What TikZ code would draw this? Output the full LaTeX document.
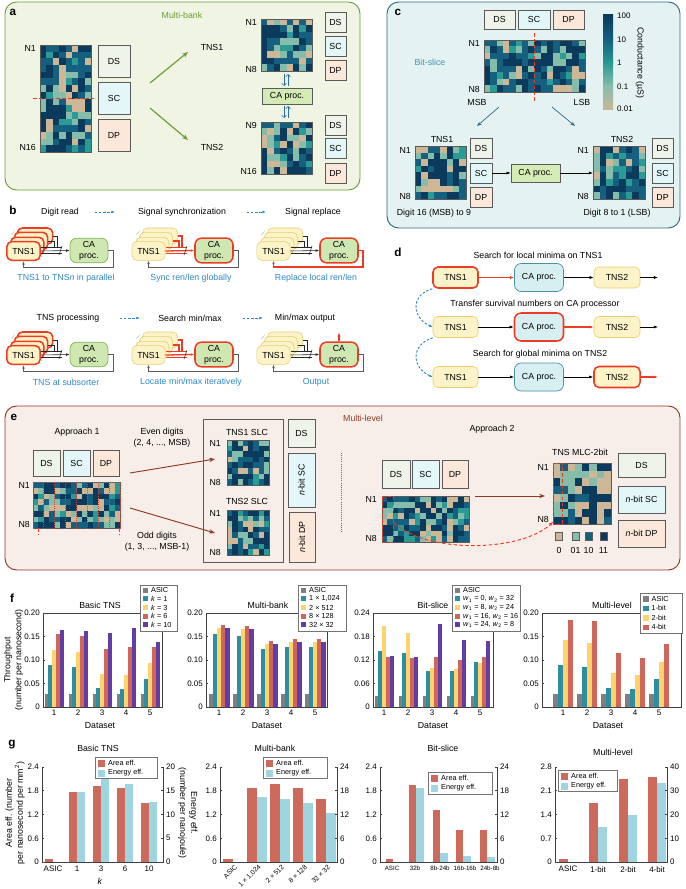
\documentclass[tikz,border=0pt]{standalone}
\usepackage{fontspec}
\setmainfont{Liberation Sans}
\usepackage{tikz}
\usetikzlibrary{arrows.meta}

\definecolor{hmA}{HTML}{0B3A5C}
\definecolor{hmB}{HTML}{14607E}
\definecolor{hmC}{HTML}{2A9A94}
\definecolor{hmD}{HTML}{86BDAA}
\definecolor{hmE}{HTML}{CDB797}
\definecolor{pagreen}{HTML}{EFF5E2}
\definecolor{pagreenline}{HTML}{6F9B36}
\definecolor{pcblue}{HTML}{E5F2F2}
\definecolor{pcline}{HTML}{2C6A82}
\definecolor{pctext}{HTML}{3E93AE}
\definecolor{pepink}{HTML}{F7EEE9}
\definecolor{peline}{HTML}{8A3A25}
\definecolor{dsfill}{HTML}{EEF4EA}
\definecolor{scfill}{HTML}{E3F7F8}
\definecolor{dpfill}{HTML}{FCE8DA}
\definecolor{boxline}{HTML}{5A5A5A}
\definecolor{cafill}{HTML}{D5EBB6}
\definecolor{tnsfill}{HTML}{FCF3C8}
\definecolor{tnsline}{HTML}{E5CF6E}
\definecolor{cagreen}{HTML}{CFE7B0}
\definecolor{cagreenline}{HTML}{82B65A}
\definecolor{cdfill}{HTML}{D7EFF1}
\definecolor{cdline}{HTML}{4A8FA2}
\definecolor{hot}{HTML}{EE3B24}
\definecolor{capblue}{HTML}{2F88C9}
\definecolor{bar1}{HTML}{7F7F7F}
\definecolor{bar2}{HTML}{2C8DA3}
\definecolor{bar3}{HTML}{FDD36C}
\definecolor{bar4}{HTML}{D0655A}
\definecolor{bar5}{HTML}{633DA6}
\definecolor{areac}{HTML}{CD6A5B}
\definecolor{energyc}{HTML}{9FD5E0}

\pgfmathdeclarerandomlist{hm}{{hmA}{hmA}{hmA}{hmA}{hmB}{hmB}{hmB}{hmC}{hmD}{hmD}{hmE}{hmE}}
\pgfmathdeclarerandomlist{mlc}{{hmE}{hmD}{hmB}{hmA}{hmA}}

% x0, y0, columns, rows, cell width, cell height, colour list
\newcommand{\heatmap}[7]{%
  \foreach \hx in {1,...,#3}{\foreach \hy in {1,...,#4}{%
    \pgfmathrandomitem{\hcol}{#7}%
    \fill[\hcol] ({#1+(\hx-1)*#5},{#2+(\hy-1)*#6}) rectangle ++({#5+0.2},{#6+0.2});}}%
  \draw[boxline,line width=0.4pt] (#1,#2) rectangle ++({#3*#5},{#4*#6});}

% one step of panel b
\newcommand{\minidiag}[7]{%
  \begin{scope}[shift={(#1,#2)}]
    \draw[densely dotted,black!60] (11,235) -- (15,230);
    \node[tnsbox,#3,minimum width=10.6mm,minimum height=4.8mm] (bn) at (35,236) {TNS\textit{n}};
    \node[tnsbox,#3,minimum width=10mm,minimum height=5.2mm] (bm) at (31,241) {};
    \node[tnsbox,#3,minimum width=10mm,minimum height=5.2mm] (bk) at (27.3,246) {};
    \node[tnsbox,#3,minimum width=10mm,minimum height=5.6mm] (b1) at (23.5,251) {TNS1};
    \node[cabbox,#5,minimum width=11.4mm,minimum height=7.4mm] (bca) at (89,250.5) {CA\\proc.};
    \draw[black!85,line width=0.5pt,#4] (bn.east) -- (57,236) -- (57,247.5);
    \draw[black!85,line width=0.5pt,#4] (bm.east) -- (54,241) -- (54,247.5);
    \draw[black!85,line width=0.5pt,#4] (41,247.5) -- (62,247.5);
    \draw[black!85,line width=0.5pt,#4] (41,253.5) -- (62,253.5);
    \draw[black!85,line width=0.5pt,#4,-{Latex[length=3pt]}] (b1.east) -- (bca.west);
    \draw[black!85,line width=0.5pt] (59,255) -- (62,246);
    \draw[boxline,line width=0.5pt,#6,-{Latex[length=3pt]}] (bca.east) -- (113,250.5) -- (113,267) -- (23.5,267) -- (b1.south);
    \node[text=capblue] at (66,278) {#7};
  \end{scope}}

% x0, x1, first centre, max, bars per group, bar width, data
\newcommand{\fchart}[7]{%
  \foreach \grp [count=\gr] in {#7}{%
    \foreach \val [count=\bb] in \grp{%
      \fill[bar\bb] ({#3+(\gr-1)*24+(\bb-1-#5/2)*#6},707) rectangle ++(#6,{-\val/#4*94});}}%
  \draw[axisline] (#1,613) rectangle (#2,707);
  \foreach \gr in {1,...,5} \node[ticklbl,anchor=north] at ({#3+(\gr-1)*24},710) {\gr};}

\newcommand{\fyticks}[2]{%
  \foreach \tl [count=\nn] in {#2}{%
    \draw[axisline] (#1,{707-(\nn-1)*23.5}) -- ++(2,0);
    \node[ticklbl,anchor=east] at ({#1-3},{707-(\nn-1)*23.5}) {\tl};}}

% left x, right x, left labels, right labels
\newcommand{\gaxes}[4]{%
  \draw[axisline] (#1,767) -- (#1,862) -- (#2,862) -- (#2,767);
  \foreach \tl [count=\nn] in {#3}{%
    \draw[axisline] (#1,{862-(\nn-1)*23.75}) -- ++(2,0);
    \node[ticklbl,anchor=east] at ({#1-3},{862-(\nn-1)*23.75}) {\tl};}
  \foreach \tl [count=\nn] in {#4}{%
    \draw[axisline] (#2,{862-(\nn-1)*23.75}) -- ++(-2,0);
    \node[ticklbl,anchor=west] at ({#2+3},{862-(\nn-1)*23.75}) {\tl};}}

% left max, right max, bar width, centre/area/energy
\newcommand{\gbars}[4]{%
  \foreach \cx/\ar/\en in {#4}{%
    \fill[areac] ({\cx-#3},862) rectangle (\cx,{862-\ar/#1*95});
    \fill[energyc] (\cx,862) rectangle ({\cx+#3},{862-\en/#2*95});}}

% x, y, width, height, spacing, square, entries
\newcommand{\legendbox}[7]{%
  \draw[legline,fill=white] (#1,#2) rectangle ++(#3,#4);
  \foreach \cl/\txt [count=\nn] in {#7}{%
    \fill[\cl] ({#1+3},{#2+1+(#5-#6)/2+(\nn-1)*#5}) rectangle ++(#6,#6);
    \node[legtext,anchor=west] at ({#1+#6+6},{#2+1+#5/2+(\nn-1)*#5}) {\txt};}}

\begin{document}
\begin{tikzpicture}[x=0.3mm,y=-0.3mm,
    every node/.style={inner sep=0pt,font=\fontsize{7.5}{9.4}\selectfont},
    lbl/.style={font=\fontsize{10}{10}\selectfont\bfseries},
    keybox/.style={draw=boxline,line width=0.5pt},
    capbox/.style={draw=boxline,fill=cafill,line width=0.5pt},
    garrow/.style={draw=pagreenline,line width=1pt,-{Stealth[length=5pt,width=4pt]}},
    carrow/.style={draw=pcline,line width=0.6pt,-{Stealth[length=4pt]}},
    earrow/.style={draw=peline,line width=0.8pt,-{Stealth[length=5pt]}},
    tinyarr/.style={draw=capblue!80!black,line width=0.5pt,-{Straight Barb[length=2pt]}},
    tnsbox/.style={draw=tnsline,fill=tnsfill,rounded corners=1.5mm,line width=0.5pt},
    cabbox/.style={draw=cagreenline,fill=cagreen,rounded corners=2mm,line width=0.6pt,align=center},
    hotbox/.style={draw=hot,line width=1.3pt},
    hotbus/.style={draw=hot,line width=1.1pt},
    cdbox/.style={draw=cdline,fill=cdfill,rounded corners=2mm,line width=0.6pt},
    bdash/.style={draw=capblue,line width=0.8pt,dash pattern=on 2pt off 1.5pt,-{Latex[length=3pt]}},
    dar/.style={line width=0.6pt,-{Latex[length=3.5pt]}},
    ticklbl/.style={font=\fontsize{6.8}{7.5}\selectfont},
    legtext/.style={font=\fontsize{6.2}{7}\selectfont},
    axisline/.style={draw=black!75,line width=0.5pt},
    legline/.style={draw=black!55,line width=0.5pt}]
\pgfmathsetseed{12}
\useasboundingbox (0,0) rectangle (685,889);
\fill[white] (0,0) rectangle (685,889);

% ---- a
\draw[pagreenline,fill=pagreen,line width=0.8pt,rounded corners=3.5mm] (5,2) rectangle (360,190);
\node[lbl] at (13,12) {a};
\node[text=pagreenline] at (182,15) {Multi-bank};
\heatmap{40}{45}{8}{16}{6.4}{6.7}{hm}
\node[anchor=east] at (36,48) {N1};
\node[anchor=east] at (36,147) {N16};
\draw[hot,densely dashed,line width=0.8pt] (33,98) -- (94,98);
\node[keybox,fill=dsfill,minimum width=9.6mm,minimum height=9.6mm] (a-ds) at (114,61) {DS};
\node[keybox,fill=scfill,minimum width=9.6mm,minimum height=9.6mm] (a-sc) at (114,98) {SC};
\node[keybox,fill=dpfill,minimum width=9.6mm,minimum height=9.6mm] (a-dp) at (114,135) {DP};
\coordinate (a-o1) at (150,83);
\coordinate (a-o2) at (150,108);
\coordinate (a-e1) at (188,52);
\coordinate (a-e2) at (188,140);
\draw[garrow] (a-o1) -- (a-e1);
\draw[garrow] (a-o2) -- (a-e2);
\node (a-t1) at (212,47) {TNS1};
\node (a-t2) at (212,147) {TNS2};
\heatmap{261}{19}{8}{8}{6.4}{6.5}{hm}
\node[anchor=east] at (257,22) {N1};
\node[anchor=east] at (257,69) {N8};
\heatmap{261}{122}{8}{8}{6.4}{6.5}{hm}
\node[anchor=east] at (257,125) {N9};
\node[anchor=east] at (257,171) {N16};
\node[capbox,minimum width=15mm,minimum height=4.8mm] (a-ca) at (287,96) {CA proc.};
\draw[tinyarr] (284,74) -- (284,86);
\draw[tinyarr] (288,86) -- (288,74);
\draw[tinyarr] (284,106) -- (284,118);
\draw[tinyarr] (288,118) -- (288,106);
\foreach \yy/\nm/\fl in {22/DS/dsfill,46/SC/scfill,70/DP/dpfill,125/DS/dsfill,148/SC/scfill,173/DP/dpfill}
  \node[keybox,fill=\fl,minimum width=6.3mm,minimum height=6mm] at (335.5,\yy) {\nm};

% ---- c
\draw[pcline,fill=pcblue,line width=0.8pt,rounded corners=3.5mm] (387,2) rectangle (680,228);
\node[lbl] at (398,12) {c};
\node[text=pctext] at (430,62) {Bit-slice};
\node[keybox,fill=dsfill,minimum width=9.3mm,minimum height=5.7mm] (c-ds) at (499.5,19.5) {DS};
\node[keybox,fill=scfill,minimum width=9.6mm,minimum height=5.7mm] (c-sc) at (534,19.5) {SC};
\node[keybox,fill=dpfill,minimum width=9.3mm,minimum height=5.7mm] (c-dp) at (568.5,19.5) {DP};
\heatmap{484}{40}{16}{8}{6.3}{6.5}{hm}
\node[anchor=east] at (480,43) {N1};
\node[anchor=east] at (480,89) {N8};
\draw[hot,densely dashed,line width=0.8pt] (534,33) -- (534,103);
\node at (477,102) {MSB};
\node at (582,102) {LSB};
\shade[top color=hmA,bottom color=hmB] (603,15) rectangle (613,39.5);
\shade[top color=hmB,bottom color=hmC] (603,39) rectangle (613,63.5);
\shade[top color=hmC,bottom color=hmD] (603,63) rectangle (613,86.5);
\shade[top color=hmD,bottom color=hmE] (603,86) rectangle (613,110);
\foreach \yy/\tl in {16/100,39.5/10,63/1,86.5/0.1,109/0.01}
  \node[ticklbl,anchor=west] at (617,\yy) {\tl};
\node[rotate=-90] at (640,63) {Conductance (µS)};
\coordinate (c-s1) at (499,107);
\coordinate (c-e1) at (477,126);
\coordinate (c-s2) at (552,107);
\coordinate (c-e2) at (575,126);
\draw[carrow] (c-s1) -- (c-e1);
\draw[carrow] (c-s2) -- (c-e2);
\node at (442,139) {TNS1};
\heatmap{415}{146}{8}{8}{6.35}{6.6}{hm}
\node[anchor=east] at (411,150) {N1};
\node[anchor=east] at (411,196) {N8};
\node[keybox,fill=dsfill,minimum width=6.6mm,minimum height=6mm] (c-ds1) at (481,148) {DS};
\node[keybox,fill=scfill,minimum width=6.6mm,minimum height=6mm] (c-sc1) at (481,173) {SC};
\node[keybox,fill=dpfill,minimum width=6.6mm,minimum height=6mm] (c-dp1) at (481,197) {DP};
\node[capbox,minimum width=14.7mm,minimum height=5.4mm] (c-ca) at (535.5,173) {CA proc.};
\coordinate (c-in2) at (593,173);
\draw[dar,line width=0.5pt] (c-sc1) -- (c-ca);
\draw[dar,line width=0.5pt] (c-ca) -- (c-in2);
\node at (622,139) {TNS2};
\heatmap{593}{146}{8}{8}{6.5}{6.6}{hm}
\node[anchor=east] at (589,150) {N1};
\node[anchor=east] at (589,196) {N8};
\node[keybox,fill=dsfill,minimum width=6.3mm,minimum height=6mm] (c-ds2) at (662.5,148) {DS};
\node[keybox,fill=scfill,minimum width=6.3mm,minimum height=6mm] (c-sc2) at (662.5,173) {SC};
\node[keybox,fill=dpfill,minimum width=6.3mm,minimum height=6mm] (c-dp2) at (662.5,197) {DP};
\node at (434,213) {Digit 16 (MSB) to 9};
\node at (617,213) {Digit 8 to 1 (LSB)};

% ---- b
\node[lbl] at (13,210) {b};
\node at (60,212) {Digit read};
\node at (182,212) {Signal synchronization};
\node at (313,212) {Signal replace};
\draw[bdash] (95,212) -- (115,212);
\draw[bdash] (247,212) -- (266,212);
\node at (68,318) {TNS processing};
\node at (190,318) {Search min/max};
\node at (305,318) {Min/max output};
\draw[bdash] (120,318) -- (140,318);
\draw[bdash] (243,318) -- (263,318);
\minidiag{0}{0}{hotbox}{}{}{}{TNS1 to TNS\textit{n} in parallel}
\minidiag{125}{0}{}{hotbus}{hotbox}{}{Sync ren/len globally}
\minidiag{250}{0}{}{}{hotbox}{hotbus}{Replace local ren/len}
\minidiag{0}{104}{hotbox}{}{}{}{TNS at subsorter}
\minidiag{125}{104}{}{hotbus}{hotbox}{}{Locate min/max iteratively}
\minidiag{250}{104}{}{}{hotbox}{}{Output}
\draw[hot,line width=1.1pt,-{Latex[length=3.5pt]}] (bca.north) -- ++(0,-9);

% ---- d
\node[lbl] at (398,252) {d};
\node at (538,255) {Search for local minima on TNS1};
\node[tnsbox,hotbox,minimum width=13.5mm,minimum height=6.3mm] (d1t1) at (455.5,277.5) {TNS1};
\node[cdbox,minimum width=14.7mm,minimum height=8.4mm] (d1ca) at (539,277.5) {CA proc.};
\node[tnsbox,minimum width=13.8mm,minimum height=6.3mm] (d1t2) at (617,277.5) {TNS2};
\coordinate (d1out) at (658,277.5);
\draw[dar,draw=hot,line width=1pt] (d1t1) -- (d1ca);
\draw[dar] (d1ca) -- (d1t2);
\draw[dar] (d1t2) -- (d1out);
\node at (535,304) {Transfer survival numbers on CA processor};
\node[tnsbox,minimum width=13.5mm,minimum height=6.3mm] (d2t1) at (455.5,327) {TNS1};
\node[cdbox,hotbox,minimum width=14.7mm,minimum height=8.4mm] (d2ca) at (539,327) {CA proc.};
\node[tnsbox,minimum width=13.8mm,minimum height=6.3mm] (d2t2) at (617,327) {TNS2};
\coordinate (d2out) at (658,327);
\draw[dar] (d2t1) -- (d2ca);
\draw[dar,draw=hot,line width=1pt] (d2ca) -- (d2t2);
\draw[dar] (d2t2) -- (d2out);
\node at (540,354) {Search for global minima on TNS2};
\node[tnsbox,minimum width=13.5mm,minimum height=6.3mm] (d3t1) at (455.5,377) {TNS1};
\node[cdbox,minimum width=14.7mm,minimum height=8.4mm] (d3ca) at (539,377) {CA proc.};
\node[tnsbox,hotbox,minimum width=13.8mm,minimum height=6.3mm] (d3t2) at (617,377) {TNS2};
\coordinate (d3out) at (658,377);
\draw[dar] (d3t1) -- (d3ca);
\draw[dar] (d3ca) -- (d3t2);
\draw[dar,draw=hot,line width=1pt] (d3t2) -- (d3out);
\draw[bdash] (d1t1.south west) .. controls (410,295) and (412,318) .. (d2t1.west);
\draw[bdash] (d2t1.south west) .. controls (410,345) and (412,368) .. (d3t1.west);

% ---- e
\draw[peline,fill=pepink,line width=0.8pt,rounded corners=3.5mm] (5,406) rectangle (680,570);
\node[lbl] at (14,417) {e};
\node[text=peline] at (363,418) {Multi-level};
\node at (77,432) {Approach 1};
\node[keybox,fill=dsfill,minimum width=8.1mm,minimum height=7.8mm] (e-ds1) at (46.5,463) {DS};
\node[keybox,fill=scfill,minimum width=8.1mm,minimum height=7.8mm] (e-sc1) at (76.5,463) {SC};
\node[keybox,fill=dpfill,minimum width=7.8mm,minimum height=7.8mm] (e-dp1) at (106,463) {DP};
\heatmap{33}{482}{16}{8}{5.44}{5.75}{hm}
\foreach \k in {0,2,...,16}
  \draw[hot,densely dotted,line width=0.7pt] ({33+\k*5.44},482) -- ({33+\k*5.44},528);
\draw[hot,densely dotted,line width=0.7pt] (33,482) -- (120,482);
\draw[hot,densely dashed,line width=0.6pt] (38,528) -- (38,535);
\draw[hot,densely dashed,line width=0.6pt] (119,528) -- (119,535);
\node[anchor=east] at (30,485) {N1};
\node[anchor=east] at (30,524) {N8};
\node at (162,432) {Even digits};
\node at (162,443) {(2, 4, ..., MSB)};
\node at (157,536) {Odd digits};
\node at (157,547) {(1, 3, ..., MSB-1)};
\coordinate (e-a1) at (130,473);
\coordinate (e-t1) at (215,459);
\coordinate (e-a2) at (130,508);
\coordinate (e-t2) at (215,533);
\draw[earrow] (e-a1) -- (e-t1);
\draw[earrow] (e-a2) -- (e-t2);
\draw[boxline,line width=0.6pt] (203,419) rectangle (283,562);
\node at (247,432) {TNS1 SLC};
\heatmap{227}{440}{8}{8}{5.25}{5.6}{hm}
\node[anchor=east] at (221,443) {N1};
\node[anchor=east] at (221,482) {N8};
\node at (247,501) {TNS2 SLC};
\heatmap{227}{510}{8}{8}{5.25}{5.6}{hm}
\node[anchor=east] at (221,513) {N1};
\node[anchor=east] at (221,552) {N8};
\node[keybox,fill=dsfill,minimum width=8.1mm,minimum height=8.4mm] (e-ds2) at (301.5,433) {DS};
\node[keybox,fill=scfill,minimum width=8.1mm,minimum height=16.2mm] (e-sc2) at (301.5,480) {\rotatebox{90}{\textit{n}-bit SC}};
\node[keybox,fill=dpfill,minimum width=7.8mm,minimum height=15mm] (e-dp2) at (302,537) {\rotatebox{90}{\textit{n}-bit DP}};
\draw[hot,densely dotted,line width=0.8pt] (341,453) -- (341,532);
\node at (492,429) {Approach 2};
\node[keybox,fill=dsfill,minimum width=8.4mm,minimum height=8.4mm] (e-ds3) at (396,474) {DS};
\node[keybox,fill=scfill,minimum width=8.1mm,minimum height=8.4mm] (e-sc3) at (425.5,474) {SC};
\node[keybox,fill=dpfill,minimum width=7.8mm,minimum height=8.4mm] (e-dp3) at (455,474) {DP};
\heatmap{382}{496}{16}{8}{5.44}{5.75}{hm}
\draw[hot,densely dashed,line width=0.8pt] (382,496) rectangle (393,542);
\node[anchor=east] at (377,499) {N1};
\node[anchor=east] at (377,538) {N8};
\coordinate (e-m2) at (475,496);
\coordinate (e-m3) at (545,496);
\draw[earrow] (e-m2) -- (e-m3);
\node at (580,452) {TNS MLC-2bit};
\heatmap{553}{463}{8}{8}{7.25}{7.7}{mlc}
\draw[hot,densely dashed,line width=0.8pt] (553,463) rectangle (562,524);
\draw[hot,densely dashed,line width=0.8pt,-{Stealth[length=4pt]}] (394,523) .. controls (425,553) and (520,553) .. (553,522);
\node[anchor=east] at (549,467) {N1};
\node[anchor=east] at (549,519) {N8};
\foreach \cl/\lx/\tl in {hmE/559/0,hmD/575.5/01,hmB/588.5/10,hmA/603.5/11}{
  \draw[boxline,fill=\cl,line width=0.5pt] ({\lx-3.5},532) rectangle ++(7,8);
  \node at (\lx,550) {\tl};}
\node[keybox,fill=dsfill,minimum width=14.1mm,minimum height=7.2mm] (e-ds4) at (641.5,465) {DS};
\node[keybox,fill=scfill,minimum width=14.1mm,minimum height=8.1mm] (e-sc4) at (641.5,499.5) {\textit{n}-bit SC};
\node[keybox,fill=dpfill,minimum width=14.1mm,minimum height=8.1mm] (e-dp4) at (641.5,533.5) {\textit{n}-bit DP};

% ---- f
\node[lbl] at (12,598) {f};
\node[rotate=90] at (8,660) {Throughput};
\node[rotate=90] at (19,660) {(number per nanosecond)};
\node at (100,605) {Basic TNS};
\node at (268,605) {Multi-bank};
\node at (433,605) {Bit-slice};
\node at (612,605) {Multi-level};
\fchart{43}{162}{54}{0.20}{5}{3.8}{{0.027,0.090,0.122,0.155,0.163},{0.027,0.086,0.118,0.151,0.161},{0.027,0.040,0.070,0.123,0.158},{0.027,0.038,0.069,0.128,0.168},{0.027,0.059,0.093,0.127,0.138}}
\fyticks{43}{0,0.05,0.10,0.15,0.20}
\fchart{206}{327}{219}{0.20}{5}{4.2}{{0.027,0.155,0.168,0.175,0.168},{0.027,0.151,0.165,0.172,0.165},{0.027,0.123,0.134,0.140,0.134},{0.027,0.128,0.139,0.145,0.139},{0.027,0.127,0.138,0.144,0.138}}
\fyticks{206}{0,0.05,0.10,0.15,0.20}
\fchart{373}{493}{384}{0.24}{5}{3.8}{{0.027,0.143,0.208,0.127,0.131},{0.027,0.139,0.190,0.126,0.127},{0.027,0.092,0.100,0.127,0.212},{0.027,0.091,0.097,0.121,0.172},{0.027,0.114,0.112,0.127,0.169}}
\fyticks{373}{0,0.06,0.12,0.18,0.24}
\fchart{542}{681}{563}{0.20}{4}{5}{{0.027,0.090,0.142,0.186},{0.027,0.086,0.136,0.183},{0.027,0.040,0.072,0.115},{0.027,0.038,0.069,0.104},{0.027,0.059,0.096,0.133}}
\fyticks{542}{0,0.05,0.10,0.15,0.20}
\legendbox{140}{585}{37}{46}{8.6}{5}{bar1/ASIC,bar2/{\textit{k} = 1},bar3/{\textit{k} = 3},bar4/{\textit{k} = 6},bar5/{\textit{k} = 10}}
\legendbox{298}{585}{48}{46}{8.6}{5}{bar1/ASIC,bar2/{1 × 1,024},bar3/{2 × 512},bar4/{8 × 128},bar5/{32 × 32}}
\legendbox{452}{585}{68}{46}{8.6}{5}{bar1/ASIC,bar2/{\textit{w}\textsubscript{1} = 0, \textit{w}\textsubscript{2} = 32},bar3/{\textit{w}\textsubscript{1} = 8, \textit{w}\textsubscript{2} = 24},bar4/{\textit{w}\textsubscript{1} = 16, \textit{w}\textsubscript{2} = 16},bar5/{\textit{w}\textsubscript{1} = 24, \textit{w}\textsubscript{2} = 8}}
\legendbox{640}{593}{42}{40}{9.5}{5.5}{bar1/ASIC,bar2/1-bit,bar3/2-bit,bar4/4-bit}
\foreach \xx in {100,267,433,608} \node at (\xx,726) {Dataset};

% ---- g
\node[lbl] at (12,745) {g};
\node at (98,748) {Basic TNS};
\node at (275,748) {Multi-bank};
\node at (443,748) {Bit-slice};
\node at (613,752) {Multi-level};
\node[rotate=90,align=center] at (15,813) {Area eff. (number\\per nanosecond per mm\textsuperscript{2})};
\node[rotate=-90,align=center] at (188,813) {Energy eff.\\(number per nanojoule)};
\gbars{2.4}{20}{8}{53/0.08/0.1,77/1.77/14.8,101/1.93/17.4,125/1.86/16.4,149/1.48/12.6}
\gaxes{42}{163}{0,0.6,1.2,1.8,2.4}{0,5,10,15,20}
\foreach \cx/\tl in {53/ASIC,77/1,101/3,125/6,149/10} \node[ticklbl,anchor=north] at (\cx,866) {\tl};
\node at (100,881) {\textit{k}};
\gbars{2.4}{24}{10}{233/0.08/0.1,257/1.86/16.5,280/1.96/16.0,303/1.86/15.0,326/1.58/12.5}
\gaxes{220}{337}{0,0.6,1.2,1.8,2.4}{0,6,12,18,24}
\foreach \cx/\tl in {233/ASIC,257/{1 × 1,024},280/{2 × 512},303/{8 × 128},326/{32 × 32}}
  \node[ticklbl,font=\fontsize{5.8}{7}\selectfont,anchor=east,rotate=45] at ({\cx+3},866) {\tl};
\gbars{2.4}{24}{7.5}{393/0.08/0.1,416/1.94/18.8,440/1.32/2.2,463/0.82/1.4,487/0.80/1.2}
\gaxes{380}{497}{0,0.6,1.2,1.8,2.4}{0,6,12,18,24}
\foreach \cx/\tl in {392/ASIC,415/32b,440/8b-24b,465/16b-16b,490/24b-8b}
  \node[ticklbl,font=\fontsize{5.3}{7}\selectfont,anchor=north] at (\cx,866) {\tl};
\gbars{2.8}{40}{9}{568/0.08/0.1,598/1.75/14.6,628/2.45/19.6,657/2.52/33.4}
\gaxes{555}{667}{0,0.7,1.4,2.1,2.8}{0,10,20,30,40}
\foreach \cx/\tl in {568/ASIC,598/1-bit,628/2-bit,657/4-bit} \node[ticklbl,anchor=north] at (\cx,866) {\tl};
\legendbox{95}{757}{62}{21}{10}{7}{areac/Area eff.,energyc/Energy eff.}
\legendbox{263}{757}{64}{21}{10}{7}{areac/Area eff.,energyc/Energy eff.}
\legendbox{428}{772}{64}{22}{10}{7}{areac/Area eff.,energyc/Energy eff.}
\legendbox{558}{770}{59}{21}{10}{7}{areac/Area eff.,energyc/Energy eff.}
\end{tikzpicture}
\end{document}
